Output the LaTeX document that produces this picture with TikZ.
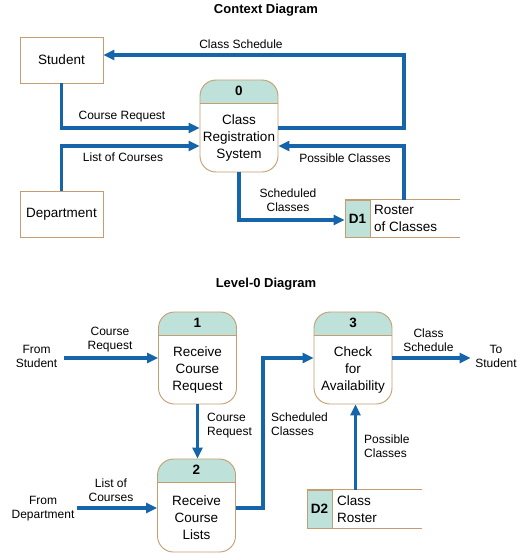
\documentclass[tikz,border=0pt]{standalone}
\usepackage{fontspec}
\setmainfont{Liberation Sans}
\usetikzlibrary{arrows.meta,calc}
\definecolor{flowblue}{RGB}{22,100,170}
\definecolor{hdr}{RGB}{190,226,218}
\definecolor{tanline}{RGB}{196,158,112}
\begin{document}
\begin{tikzpicture}[x=1pt,y=-1pt,
  flow/.style={draw=flowblue, line width=3.2pt, -{Triangle[length=11pt,width=10pt]}},
  title/.style={font=\fontsize{13}{15}\selectfont\bfseries, inner sep=0pt},
  ent/.style={draw=tanline, line width=0.9pt, minimum width=83pt, minimum height=46pt, inner sep=0pt, font=\fontsize{13.5}{16}\selectfont},
  proc/.style={draw=tanline, line width=0.9pt, rounded corners=16pt, minimum width=78pt, minimum height=92pt, inner sep=0pt,
    path picture={\fill[hdr, sharp corners] (path picture bounding box.north west) rectangle ([yshift=-23pt]path picture bounding box.north east);
      \draw[tanline, line width=0.9pt, sharp corners] ([yshift=-23pt]path picture bounding box.north west) -- ([yshift=-23pt]path picture bounding box.north east);}},
  num/.style={font=\fontsize{13.5}{16}\selectfont\bfseries, inner sep=0pt},
  ptext/.style={align=center, font=\fontsize{13.5}{17}\selectfont, inner sep=0pt},
  store/.style={minimum width=115pt, minimum height=37pt, inner sep=0pt},
  scell/.style={draw=tanline, line width=0.9pt, fill=hdr, minimum width=25pt, minimum height=37pt, inner sep=0pt, font=\fontsize{13.5}{16}\selectfont\bfseries},
  stext/.style={align=left, anchor=west, font=\fontsize{13.5}{17}\selectfont, inner sep=0pt},
  storeline/.style={draw=tanline, line width=0.9pt},
  lbl/.style={font=\fontsize{12}{14}\selectfont, inner sep=2pt},
  term/.style={align=center, font=\fontsize{12}{14}\selectfont, inner sep=2pt}
]
\fill[white] (0,0) rectangle (520,554);
\useasboundingbox (0,0) rectangle (520,554);

% ---------------- Context diagram ----------------
\node[title] (t1) at (266,10) {Context Diagram};
\node[ent] (stu) at (61.5,60) {Student};
\node[ent] (dep) at (61.5,214) {Department};
\node[proc] (p0) at (239,126) {};
\node[num] (p0n) at ($(p0.north)+(0,11.5)$) {0};
\node[ptext] (p0t) at ($(p0.center)+(0,12.5)$) {Class\\Registration\\System};

\node[store] (s1) at (402.5,218.5) {};
\draw[storeline] (s1.north west) -- (s1.north east);
\draw[storeline] (s1.south west) -- (s1.south east);
\node[scell] (d1) at (357.5,218.5) {D1};
\node[stext] (s1t) at (374,218.5) {Roster\\of Classes};

\coordinate (csc) at (404,55);
\draw[flow] ([yshift=-2pt]p0.east) -| (csc) -- (stu.east |- csc);
\draw[flow] (stu.south) |- ([yshift=-2pt]p0.west);
\draw[flow] (dep.north) |- ([yshift=-20pt]p0.west);
\draw[flow] ([xshift=1.5pt]s1.north) |- ([yshift=-20pt]p0.east);
\draw[flow] (p0.south) |- ([yshift=-1.5pt]d1.west);

\node[lbl] (l1) at (241,44) {Class Schedule};
\node[lbl] (l2) at (122,117) {Course Request};
\node[lbl] (l3) at (123,157) {List of Courses};
\node[lbl] (l4) at (345,158) {Possible Classes};
\node[lbl, align=center] (l5) at (288,200) {Scheduled\\Classes};

% ---------------- Level-0 diagram ----------------
\node[title] (t2) at (266,284) {Level-0 Diagram};

\node[proc] (p1) at (197.5,358) {};
\node[num] (p1n) at ($(p1.north)+(0,11.5)$) {1};
\node[ptext] (p1t) at ($(p1.center)+(0,12.5)$) {Receive\\Course\\Request};

\node[proc, minimum height=93pt] (p2) at (196.5,505.5) {};
\node[num] (p2n) at ($(p2.north)+(0,11.5)$) {2};
\node[ptext] (p2t) at ($(p2.center)+(0,12.5)$) {Receive\\Course\\Lists};

\node[proc] (p3) at (353,358) {};
\node[num] (p3n) at ($(p3.north)+(0,11.5)$) {3};
\node[ptext] (p3t) at ($(p3.center)+(0,12.5)$) {Check\\for\\Availability};

\node[store, minimum height=38pt] (s2) at (364.5,509) {};
\draw[storeline] (s2.north west) -- (s2.north east);
\draw[storeline] (s2.south west) -- (s2.south east);
\node[scell, minimum height=38pt] (d2) at (319.5,509) {D2};
\node[stext] (s2t) at (337,509) {Class\\Roster};

\node[term] (fs) at (36.5,356.5) {From\\Student};
\node[term] (fd) at (43,508.5) {From\\Department};
\node[term] (ts) at (496,356.5) {To\\Student};

\draw[flow] ([xshift=5pt]fs.east |- p1.west) -- (p1.west);
\coordinate (p2in) at ([yshift=-2.5pt]p2.west);
\draw[flow] (fd.east |- p2in) -- (p2in);
\draw[flow] (p3.east) -- ([xshift=-2.5pt]ts.west |- p3.east);
\draw[flow] (p1.south) -- (p1.south |- p2.north);
\draw[flow] ([yshift=-2.5pt]p2.east) -- ++(27,0) |- (p3.west);
\draw[flow] ([xshift=2.5pt]p3.south |- s2.north) -- ([xshift=2.5pt]p3.south);

\node[lbl, align=center] (m1) at (110,340) {Course\\Request};
\node[lbl, align=left, anchor=west] (m2) at (205,425.5) {Course\\Request};
\node[lbl, align=left, anchor=west] (m3) at (269,424) {Scheduled\\Classes};
\node[lbl, align=center] (m4) at (428.5,340) {Class\\Schedule};
\node[lbl, align=left, anchor=west] (m5) at (362,446) {Possible\\Classes};
\node[lbl, align=center] (m6) at (111,490.5) {List of\\Courses};
\end{tikzpicture}
\end{document}
